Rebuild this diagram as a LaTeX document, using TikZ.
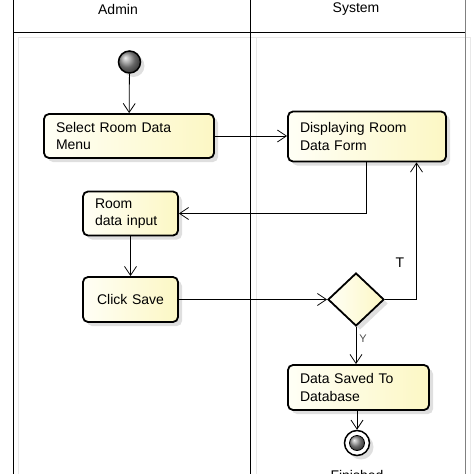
\documentclass[tikz,border=0pt]{standalone}
\usepackage{fontspec}
\setmainfont{Liberation Sans}
\usetikzlibrary{arrows.meta,shapes.geometric,shadows}
\definecolor{actlight}{RGB}{255,255,246}
\definecolor{actdark}{RGB}{252,247,196}

\begin{document}
\begin{tikzpicture}[x=1pt, y=-1pt, >={Straight Barb[length=9pt,width=12pt]},
    act/.style={draw, line width=1.8pt, rounded corners=5pt, left color=actlight, right color=actdark,
      drop shadow={shadow xshift=4pt, shadow yshift=-4pt, fill=gray!35, opacity=0.7},
      font=\fontsize{14}{17.5}\selectfont, align=left, inner xsep=12pt, inner ysep=0pt},
    decision/.style={diamond, draw, line width=1.8pt, left color=actlight, right color=actdark,
      drop shadow={shadow xshift=4pt, shadow yshift=-4pt, fill=gray!35, opacity=0.7},
      minimum width=56pt, minimum height=53pt, inner sep=0pt},
    flow/.style={->, line width=0.8pt},
    lane/.style={line width=1pt},
    laneshade/.style={gray!18, line width=1pt}]
    \useasboundingbox (0,0) rectangle (474,474);
    \clip (0,0) rectangle (474,474);
    % swimlanes
    \draw[laneshade] (18,37) -- (18,474) (256,37) -- (256,474) (18,37) -- (470,37) (470,37) -- (470,474);
    \draw[lane] (13,0) -- (13,474);
    \draw[lane] (250.5,0) -- (250.5,474);
    \draw[lane, gray] (465,0) -- (465,474);
    \draw[lane] (13,32) -- (465,32);
    \node[font=\fontsize{14}{17}\selectfont] (adminlane) at (118,9.5) {Admin};
    \node[font=\fontsize{14}{17}\selectfont] (systemlane) at (356,9.5) {System};
    % actions
    \node[circle, draw, line width=1.5pt, minimum size=22pt, ball color=gray!85,
      drop shadow={shadow xshift=4pt, shadow yshift=-4pt, fill=gray!35, opacity=0.7}] (start) at (129.5,62) {};
    \node[act, text width=146pt, minimum height=44pt] (select) at (129,136) {Select Room Data\\Menu};
    \node[act, text width=134pt, minimum height=50pt] (display) at (367,136.5) {Displaying Room\\Data Form};
    \node[act, text width=71pt, minimum height=44pt] (roominput) at (130.5,213.5) {Room\\data input};
    \node[act, text width=71pt, minimum height=45pt, align=center] (clicksave) at (130.5,299.5) {Click Save};
    \node[decision] (dec) at (356,299.5) {};
    \node[act, text width=117pt, minimum height=45pt] (saved) at (358.5,387.5) {Data Saved To\\Database};
    \node[circle, draw, line width=1.5pt, minimum size=25pt, fill=white,
      drop shadow={shadow xshift=4pt, shadow yshift=-4pt, fill=gray!35, opacity=0.7}] (finish) at (357,443) {};
    \node[circle, draw, line width=0.8pt, minimum size=15pt, ball color=gray!85] (finishcore) at (finish) {};
    \node[font=\fontsize{14}{17}\selectfont, anchor=base] (finlabel) at (357,480) {Finished};
    % flows
    \draw[flow] (start) -- (select);
    \draw[flow] (select.east) -- (select.east -| display.west);
    \draw[flow] ([xshift=-1pt]display.south) |- (roominput.east);
    \draw[flow] (roominput) -- (clicksave);
    \draw[flow] (clicksave) -- (dec);
    \coordinate (tbend) at (416.5,299.5);
    \draw[flow] (dec.east) -- (tbend) -- (tbend |- display.south);
    \draw[flow] (dec.south) -- (dec.south |- saved.north);
    \draw[flow] (saved.south -| finish) -- (finish);
    \node[font=\fontsize{14}{17}\selectfont] (tlabel) at (400,263) {T};
    \node[font=\fontsize{11}{13}\selectfont, text=gray!60!black] (ylabel) at (363,339) {Y};
\end{tikzpicture}
\end{document}
